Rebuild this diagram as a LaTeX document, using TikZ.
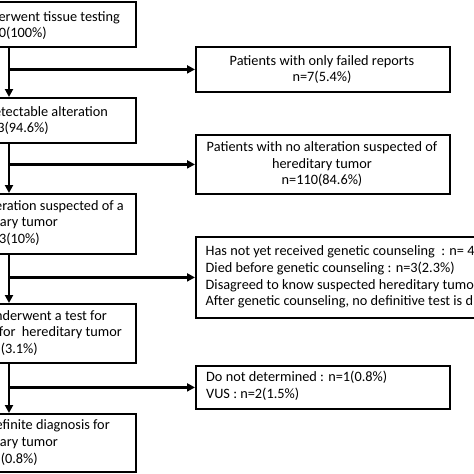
\documentclass[tikz,border=0pt]{standalone}
\usepackage{fontspec}
\setmainfont{Carlito}
\usetikzlibrary{arrows.meta}
\begin{document}
\begin{tikzpicture}[x=1pt,y=-1pt,
  box/.style={draw=black,line width=1.8pt,rectangle,inner sep=0pt,anchor=north west},
  arr/.style={draw=black,line width=2.2pt,-{Triangle[length=8pt,width=8pt]}},
  txt/.style={inner sep=0pt,font=\fontsize{14.3}{16.5}\selectfont},
  lt/.style={txt,anchor=base east},
  rt/.style={txt,anchor=base west},
  ct/.style={txt,anchor=base}]
\useasboundingbox (0,0) rectangle (474,474);
\fill[white] (0,0) rectangle (474,474);
\clip (0,0) rectangle (474,474);
% left column boxes
\node[box,minimum width=195pt,minimum height=45.2pt] (L1) at (-60,0.8) {};
\node[box,minimum width=195pt,minimum height=45pt] (L2) at (-60,97) {};
\node[box,minimum width=195pt,minimum height=60pt] (L3) at (-60,193) {};
\node[box,minimum width=195pt,minimum height=59pt] (L4) at (-60,303) {};
\node[box,minimum width=195pt,minimum height=58pt] (L5) at (-60,413) {};
% right column boxes
\node[box,minimum width=254pt,minimum height=45pt] (A) at (195,46) {};
\node[box,minimum width=254pt,minimum height=59pt] (B) at (195,134) {};
\node[box,minimum width=330pt,minimum height=81pt] (C) at (195,236) {};
\node[box,minimum width=254pt,minimum height=43pt] (D) at (195,365) {};
% trunk
\coordinate (v) at (9,0);
\draw[arr] (L1.south -| v) -- (L2.north -| v);
\draw[arr] (L2.south -| v) -- (L3.north -| v);
\draw[arr] (L3.south -| v) -- (L4.north -| v);
\draw[arr] (L4.south -| v) -- (L5.north -| v);
\draw[arr] (A.west -| v) -- (A.west);
\draw[arr] (B.west -| v) -- (B.west);
\draw[arr] (C.west -| v) -- (C.west);
\draw[arr] (D.west -| v) -- (D.west);
% left texts
\node[lt] (t11) at (120,21) {erwent tissue testing};
\node[lt] (t12) at (47,37.5) {0(100\%)};
\node[lt] (t21) at (108,116) {etectable alteration};
\node[lt] (t22) at (49,132.5) {3(94.6\%)};
\node[lt] (t31) at (124,210) {eration suspected of a};
\node[lt] (t32) at (58,226.5) {ary tumor};
\node[lt] (t33) at (40,243) {3(10\%)};
\node[lt] (t41) at (107,320) {nderwent a test for};
\node[lt] (t42) at (122,336.5) {for\ \ hereditary tumor};
\node[lt] (t43) at (38,353.5) {(3.1\%)};
\node[lt] (t51) at (110,429) {efinite diagnosis for};
\node[lt] (t52) at (58,446) {ary tumor};
\node[lt] (t53) at (38,463) {(0.8\%)};
% right texts
\node[ct] (a1) at (322,65.5) {Patients with only failed reports};
\node[ct] (a2) at (322,81) {n=7(5.4\%)};
\node[ct] (b1) at (322,151.5) {Patients with no alteration suspected of};
\node[ct] (b2) at (322,168) {hereditary tumor};
\node[ct] (b3) at (322,184.5) {n=110(84.6\%)};
\node[rt] (c1) at (205.5,255.5) {Has not yet received genetic counseling\ \ : n= 4};
\node[rt] (c2) at (205.5,272) {Died before genetic counseling : n=3(2.3\%)};
\node[rt] (c3) at (205.5,289) {Disagreed to know suspected hereditary tumo};
\node[rt] (c4) at (205.5,305.5) {After genetic counseling, no definitive test is d};
\node[rt] (d1) at (206,381.5) {Do not determined : n=1(0.8\%)};
\node[rt] (d2) at (206,398) {VUS : n=2(1.5\%)};
\end{tikzpicture}
\end{document}
